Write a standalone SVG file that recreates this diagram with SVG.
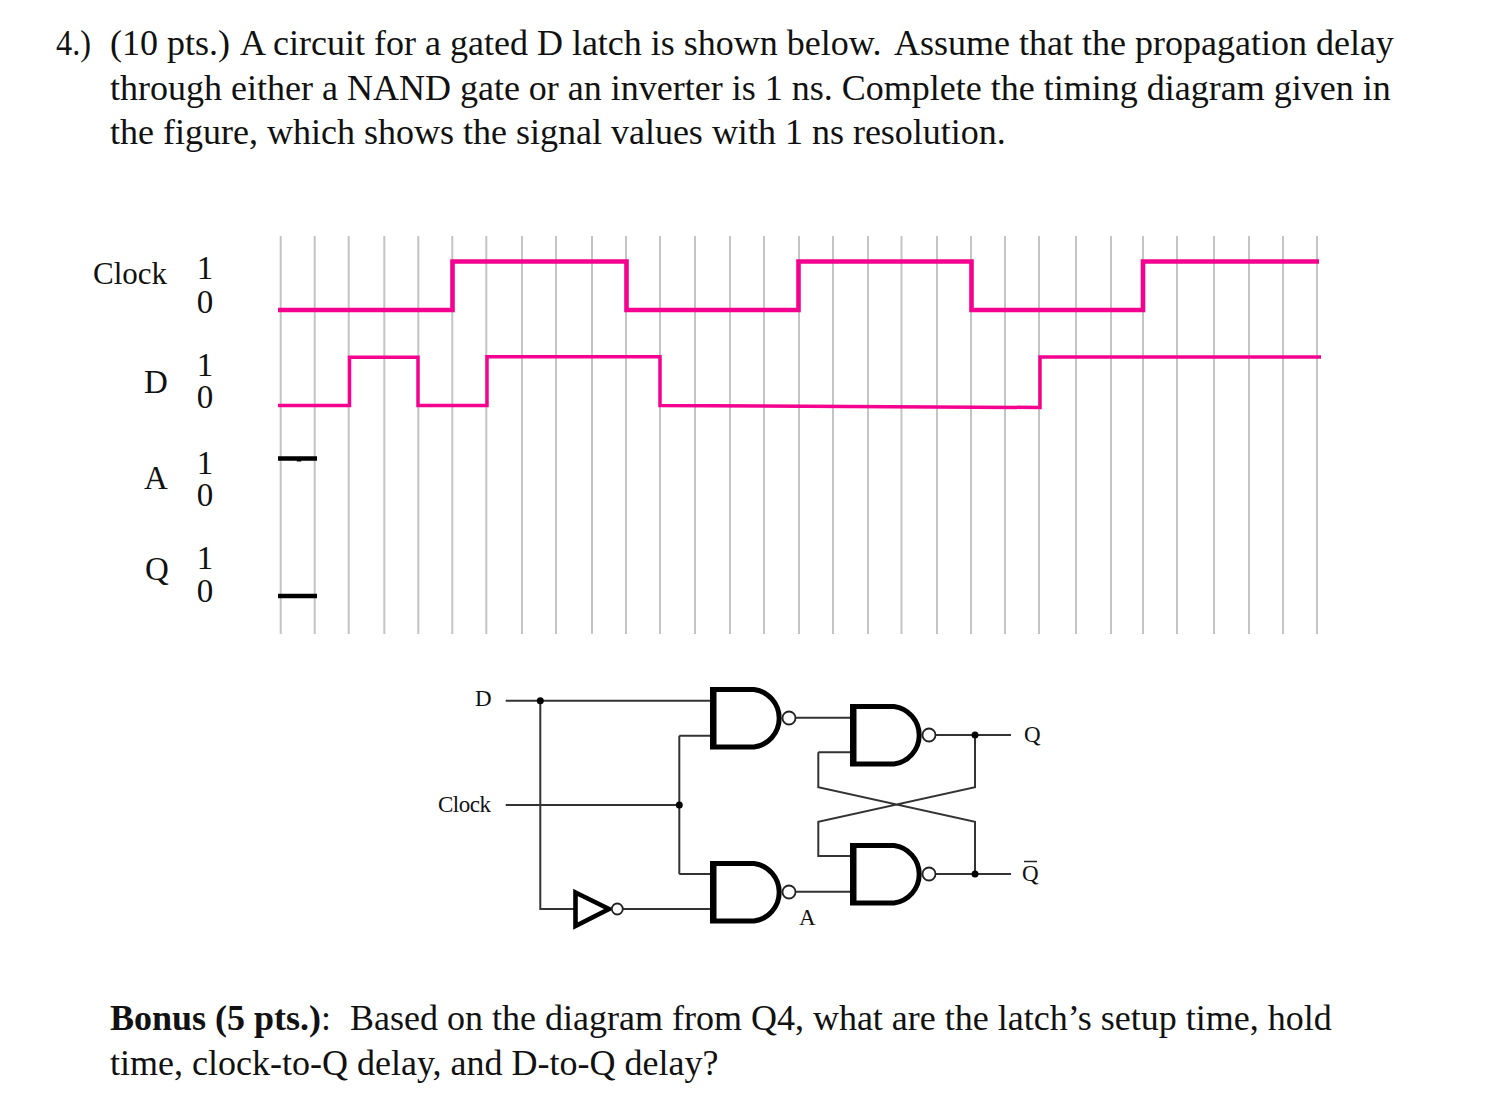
<svg xmlns="http://www.w3.org/2000/svg" width="1490" height="1097" viewBox="0 0 1490 1097">
<style>
text{font-family:"Liberation Serif","Times New Roman",serif;fill:#111}
.p{font-size:36px}
.t{font-size:33px}
.l{font-size:31px}
.c{font-size:23px}
.grid{stroke:#c4c4c4;stroke-width:2;fill:none}
.clk{stroke:#f4028f;stroke-width:4.6;fill:none}
.d{stroke:#f4028f;stroke-width:3.5;fill:none}
.init{stroke:#000;stroke-width:4.5;fill:none}
.w{stroke:#333;stroke-width:2;fill:none}
.g{stroke:#000;stroke-width:5;fill:#fff}
.bar{fill:#000}
.b{stroke:#222;stroke-width:1.8;fill:#fff}
.dot{fill:#000}
</style>
<defs>
<g id="nand">
<path class="g" d="M2.5,-28.5 H44 A29,29 0 0 1 44,29 H2.5 Z"/>
<rect class="bar" x="0" y="-31" width="6.5" height="62"/>
<circle class="b" cx="79" cy="0" r="6.5"/>
</g>
</defs>
<g id="question">
<text class="p" x="56" y="55" textLength="35" lengthAdjust="spacingAndGlyphs">4.)</text>
<text class="p" x="110" y="55">(10 pts.)</text>
<text class="p" x="240" y="55">A circuit for a gated D latch is shown below.</text>
<text class="p" x="894" y="55">Assume that the propagation delay</text>
<text class="p" x="110" y="100">through either a NAND gate or an inverter is 1 ns. Complete the timing diagram given in</text>
<text class="p" x="110" y="144">the figure, which shows the signal values with 1 ns resolution.</text>
</g>
<g id="grid">
<path class="grid" d="M280.7,236V634M314.7,236V634M348.7,236V634M384.3,236V634M418.3,236V634M452.3,236V634M486.3,236V634M522,236V634M556,236V634M592,236V634M626,236V634M660,236V634M695,236V634M730,236V634M764,236V634M799,236V634M833,236V634M868,236V634M901.5,236V634M937,236V634M971,236V634M1005,236V634M1039,236V634M1076,236V634M1111,236V634M1143,236V634M1177,236V634M1214,236V634M1249,236V634M1283,236V634M1317,236V634"/>
</g>
<g id="timing-labels">
<text class="l" x="93" y="284">Clock</text>
<text class="t" x="205" y="279" text-anchor="middle">1</text>
<text class="t" x="205" y="313" text-anchor="middle">0</text>
<text class="t" x="144" y="393">D</text>
<text class="t" x="205" y="376" text-anchor="middle">1</text>
<text class="t" x="205" y="408" text-anchor="middle">0</text>
<text class="t" x="144" y="489">A</text>
<text class="t" x="205" y="474" text-anchor="middle">1</text>
<text class="t" x="205" y="506" text-anchor="middle">0</text>
<text class="t" x="145" y="580">Q</text>
<text class="t" x="205" y="569" text-anchor="middle">1</text>
<text class="t" x="205" y="602" text-anchor="middle">0</text>
</g>
<g id="waveforms">
<path id="wave-clock" class="clk" d="M278,310H452.5V261.5H626.5V310H798.5V261.5H971.5V310H1143V261.5H1319"/>
<path id="wave-d" class="d" d="M278,405.5H349.5V357.3H418V405.5H487V356.8H660V405.5L1040,407.5V357H1321"/>
<path id="wave-a" class="init" d="M278,458.5H317M299,459V461.5"/>
<path id="wave-q" class="init" d="M278,596H317"/>
</g>
<g id="connectors">
<path class="w" d="M505.7,700.7H710M540.3,700.7V909H574M623,909H710M505.7,805H679.3M679.3,735.7V874M679.3,735.7H710M679.3,874H710"/>
<path class="w" d="M796,717.7H850M796,891.7H850M935,735H1011M935,874H1011"/>
<path class="w" d="M975,735V787.3L818.3,821.7V856H850M818.3,752.3H850M818.3,752.3V787.3L975,821.7V874"/>
</g>
<g id="dots">
<circle class="dot" cx="540.3" cy="700.7" r="3.5"/>
<circle class="dot" cx="679.3" cy="805" r="3.5"/>
<circle class="dot" cx="975" cy="735" r="3.5"/>
<circle class="dot" cx="975" cy="874" r="3.5"/>
</g>
<g id="inverter">
<path d="M575.5,892.5L609,909L575.5,926Z" fill="#fff" stroke="#000" stroke-width="4.6"/>
<circle class="b" cx="617.3" cy="909" r="5.5"/>
</g>
<g id="nand-1"><use href="#nand" x="710" y="718"/></g>
<g id="nand-2"><use href="#nand" x="850" y="735"/></g>
<g id="nand-3"><use href="#nand" x="710" y="892"/></g>
<g id="nand-4"><use href="#nand" x="850" y="874"/></g>
<g id="circuit-labels">
<text class="c" x="475" y="706">D</text>
<text class="c" x="438" y="812" textLength="53">Clock</text>
<text class="c" x="1024" y="742">Q</text>
<text class="c" x="1022" y="881">Q</text>
<path d="M1024,861.5H1037" stroke="#222" stroke-width="1.5"/>
<text class="c" x="799" y="925">A</text>
</g>
<g id="bonus">
<text class="p" x="110" y="1030"><tspan font-weight="bold">Bonus (5 pts.)</tspan>:</text>
<text class="p" x="350" y="1030">Based on the diagram from Q4, what are the latch’s setup time, hold</text>
<text class="p" x="110" y="1075">time, clock-to-Q delay, and D-to-Q delay?</text>
</g>
</svg>
